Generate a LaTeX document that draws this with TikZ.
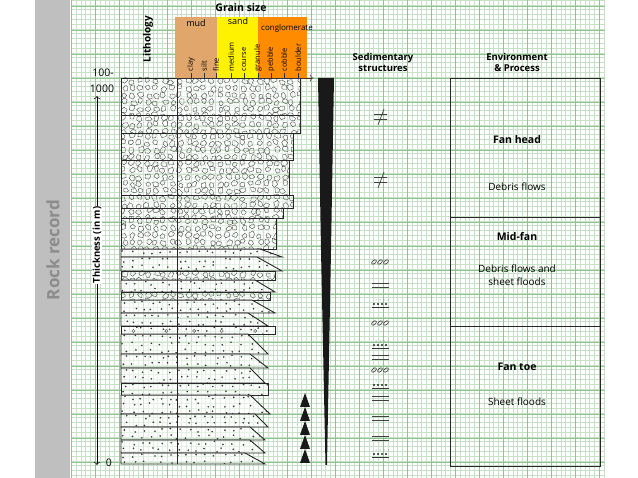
\documentclass[tikz,border=0pt]{standalone}
\usepackage{fontspec}
\setmainfont{Open Sans}
\usetikzlibrary{arrows.meta}
\begin{document}
\begin{tikzpicture}[x=1pt,y=-1pt,
  bedline/.style={black!85,line width=0.9pt},
  clast/.style={black!75,line width=0.35pt},
  hdr/.style={font=\bfseries\fontsize{9.5}{11}\selectfont,align=center},
  txt/.style={font=\fontsize{10}{13}\selectfont,align=center},
  tick/.style={font=\fontsize{7.5}{8}\selectfont,rotate=90,anchor=west,inner sep=0.5pt}]
\useasboundingbox (0,0) rectangle (638,478);
\pgfmathsetseed{7}
% grid
\fill[white] (0,0) rectangle (638,478);
\foreach \i in {0,...,111}{\draw[green!45!black!22,line width=0.2pt] (71+4.8*\i,0) -- (71+4.8*\i,478);}
\foreach \i in {0,...,99}{\draw[green!45!black!22,line width=0.2pt] (71,4.8*\i) -- (605,4.8*\i);}
\foreach \i in {0,...,22}{\draw[green!50!black!45,line width=0.45pt] (71+24*\i,0) -- (71+24*\i,478);}
\foreach \i in {0,...,19}{\draw[green!50!black!45,line width=0.45pt] (71,6+24*\i) -- (605,6+24*\i);}
% rock record band
\fill[black!25] (35,0) rectangle (70,478);
\node[rotate=90,text=black!45,font=\bfseries\fontsize{17}{18}\selectfont] (rr) at (53,250) {Rock record};
% bed macro
\newcommand\bed[5]{%
 \begin{scope}
 \clip (121,#1)--(#3,#1)--(#4,#2)--(121,#2)--cycle;
 \fill[white,opacity=0.55] (121,#1) rectangle (300,#2);
 \pgfmathsetmacro\ya{#1+3}\pgfmathsetmacro\yb{#1+10}\pgfmathsetmacro\yc{#2+2}%
 \ifx c#5
   \foreach \xx in {124,132,...,300}{\foreach \yy in {\ya,\yb,...,\yc}{%
     \draw[clast,shift={(\xx+2*rand,\yy+1.5*rand)},rotate=180*rand,scale=0.8+0.4*rnd]
       (-3,-1.5)--(-0.5,-2.6)--(2.6,-1.2)--(2.2,1.8)--(-1.5,2.3)--cycle;}}
 \else
   \foreach \xx in {125,134,...,300}{\foreach \yy in {\ya,\yb,...,\yc}{%
     \fill[black!80] (\xx+3*rand,\yy+2*rand) circle (0.9);}}
   \ifx p#5
     \foreach \xx in {135,165,...,300}{\draw[black!70,line width=0.4pt] (\xx+4*rand,#1+5) circle (1.6);}
   \fi
 \fi
 \end{scope}
 \draw[bedline] (121,#1)--(#3,#1)--(#4,#2)--(121,#2)--cycle;
 \draw[bedline] (177,#1)--(177,#2);}
% conglomerate beds
\bed{78}{115}{300}{300}{c}
\bed{115}{133}{300}{300}{c}
\bed{133}{160}{293}{293}{c}
\bed{160}{195}{289}{289}{c}
\bed{195}{208}{293}{293}{c}
\bed{208}{218}{283}{283}{c}
\bed{218}{249}{276}{276}{c}
% sand beds
\bed{249}{257}{260}{282}{s}
\bed{257}{271}{257}{282}{s}
\bed{271}{280}{275}{275}{c}
\bed{280}{292}{255}{275}{s}
\bed{292}{300}{270}{270}{c}
\bed{300}{313}{252}{275}{s}
\bed{313}{326}{248}{268}{s}
\bed{326}{334}{275}{275}{p}
\bed{334}{354}{248}{268}{s}
\bed{354}{368}{250}{268}{s}
\bed{368}{383}{250}{265}{s}
\bed{383}{395}{268}{268}{s}
\bed{395}{414}{250}{270}{s}
\bed{414}{427}{255}{268}{s}
\bed{427}{440}{250}{265}{s}
\bed{440}{453}{250}{265}{s}
\bed{453}{464}{245}{265}{s}
% grain size bar
\fill[brown!70!orange!70!white] (175,17) rectangle (217,78);
\fill[yellow] (217,17) rectangle (258,78);
\fill[orange!90!yellow] (258,17) rectangle (307,78);
\node[hdr,font=\bfseries\fontsize{10.5}{11}\selectfont] (gs) at (241,8) {Grain size};
\node[txt,font=\fontsize{9}{10}\selectfont] (mud) at (196,23) {mud};
\node[txt,font=\fontsize{9}{10}\selectfont] (sand) at (238,21) {sand};
\node[txt,font=\fontsize{8}{9}\selectfont,anchor=west,inner sep=0pt] (cg) at (261,28) {conglomerate};
\coordinate (ax0) at (175,78);
\coordinate (ax1) at (313,78);
\draw[black!80,line width=0.6pt,-{To[length=3pt]}] (ax0) -- (ax1);
\foreach \x/\t in {191/clay,204/silt,216/fine,231/medium,244/course,258/granule,271/pebble,284/cobble,298/boulder}{
  \draw[black!80,line width=0.5pt] (\x,78) -- (\x,73);
  \node[tick] at (\x,72) {\t};}
\node[hdr,rotate=90,anchor=west,font=\bfseries\fontsize{10}{11}\selectfont] (lith) at (148,66) {Lithology};
% thickness axis
\node[txt,font=\fontsize{10.5}{11}\selectfont] (t100) at (103,73) {100-};
\node[txt,font=\fontsize{10.5}{11}\selectfont] (t1000) at (102,89) {1000};
\node[txt,font=\fontsize{10.5}{11}\selectfont] (t0) at (109,463) {0};
\coordinate (th0) at (97,96);
\coordinate (th1) at (97,465);
\draw[black,line width=0.6pt,{To[length=3pt]}-{To[length=3pt]}] (th0) -- (th1);
\node[rotate=90,fill=white,inner sep=1pt,font=\bfseries\fontsize{9.5}{10}\selectfont] (thk) at (97,245) {Thickness (in m)};
% wedge
\fill[black!90] (318,78) -- (334,78) -- (331,250) -- (327,465) -- (325.5,465) -- (321,250) -- cycle;
% triangles
\foreach \y in {393,407,421,435,449}{\fill[black!90] (305,\y) -- (300,\y+14) -- (310,\y+14) -- cycle;}
% sedimentary structures
\node[hdr] (ss) at (383,62) {Sedimentary\\structures};
\newcommand\neqsym[1]{\draw[black!75,line width=0.7pt] (374,#1-2.5)--(387,#1-2.5) (374,#1+2.5)--(387,#1+2.5) (378,#1+8)--(384,#1-8);}
\newcommand\eqsym[1]{\draw[black!75,line width=0.9pt] (372,#1-2)--(389,#1-2) (372,#1+2)--(389,#1+2);}
\newcommand\ooosym[1]{\foreach \d in {-6,0,6}{\draw[black!70,line width=0.7pt,rotate around={-50:(380+\d,#1)}] (380+\d,#1) ellipse (1.6 and 2.8);}}
\newcommand\dtsym[1]{\foreach \d in {-6,-2,2,6}{\fill[black!85] (380+\d,#1) circle (1.1); \fill[black!60] (380+\d+2,#1-4) circle (0.5);}
  \draw[black!80,line width=0.7pt] (372,#1+3)--(389,#1+3);}
\neqsym{117}\neqsym{180}
\ooosym{262}\eqsym{285}\dtsym{304}\ooosym{323}\dtsym{345}\eqsym{357}\ooosym{370}\dtsym{385}\eqsym{398}\eqsym{418}\eqsym{438}\dtsym{454}
% environment
\node[hdr] (env) at (517,62) {Environment\\\& Process};
\draw[black!85,line width=0.7pt] (450,78) rectangle (600,466);
\draw[black!85,line width=0.7pt] (450,217) -- (600,217) (450,326) -- (600,326);
\node[hdr,font=\bfseries\fontsize{10.5}{11}\selectfont] (fh) at (517,140) {Fan head};
\node[txt] (df) at (517,187) {Debris flows};
\node[hdr,font=\bfseries\fontsize{10.5}{11}\selectfont] (mf) at (517,237) {Mid-fan};
\node[txt] (dfs) at (517,275) {Debris flows and\\sheet floods};
\node[hdr,font=\bfseries\fontsize{10.5}{11}\selectfont] (ft) at (517,367) {Fan toe};
\node[txt] (sf) at (517,402) {Sheet floods};
\end{tikzpicture}
\end{document}
